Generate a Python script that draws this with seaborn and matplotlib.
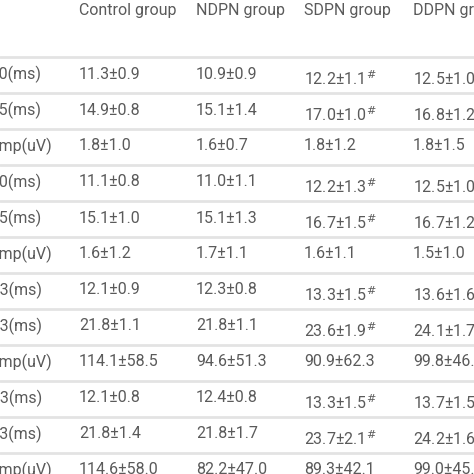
import matplotlib
matplotlib.use("Agg")
import matplotlib.pyplot as plt
import seaborn as sns

sns.set_theme(style="white")
plt.rcParams['font.family'] = ['Roboto', 'DejaVu Sans']

columns = ["Control group", "NDPN group", "SDPN group", "DDPN group"]
row_labels = ["L10(ms)", "L15(ms)", "Amp(uV)", "R10(ms)", "R15(ms)", "Amp(uV)",
              "L 13(ms)", "L 13(ms)", "Amp(uV)", "R 13(ms)", "R≥3(ms)", "Amp(uV)"]
control = ["11.3±0.9", "14.9±0.8", "1.8±1.0", "11.1±0.8", "15.1±1.0", "1.6±1.2",
           "12.1±0.9", "21.8±1.1", "114.1±58.5", "12.1±0.8", "21.8±1.4", "114.6±58.0"]
ndpn = ["10.9±0.9", "15.1±1.4", "1.6±0.7", "11.0±1.1", "15.1±1.3", "1.7±1.1",
        "12.3±0.8", "21.8±1.1", "94.6±51.3", "12.4±0.8", "21.8±1.7", "82.2±47.0"]
sdpn = ["12.2±1.1", "17.0±1.0", "1.8±1.2", "12.2±1.3", "16.7±1.5", "1.6±1.1",
        "13.3±1.5", "23.6±1.9", "90.9±62.3", "13.3±1.5", "23.7±2.1", "89.3±42.1"]
sdpn_mark = [True, True, False, True, True, False, True, True, False, True, True, False]
ddpn = ["12.5±1.0", "16.8±1.2", "1.8±1.5", "12.5±1.0", "16.7±1.2", "1.5±1.0",
        "13.6±1.6", "24.1±1.7", "99.8±46.1", "13.7±1.5", "24.2±1.6", "99.0±45.1"]

col_x = [79, 196, 304, 413]
label_end = 42
text_color = "#5a5a5a"
line_color = "#e3e3e3"

fig = plt.figure(figsize=(4.74, 4.74), dpi=100)
ax = fig.add_axes([0, 0, 1, 1])
ax.set_xlim(0, 474)
ax.set_ylim(474, 0)
ax.axis("off")

fs = 11.5
for x, c in zip(col_x, columns):
    ax.text(x, 10, c, ha="left", va="center", fontsize=fs, color=text_color)

top = 57
step = 36
for i in range(len(row_labels) + 1):
    ax.axhline(top + i * step, color=line_color, lw=2)

for i, lab in enumerate(row_labels):
    yc = top + i * step + step / 2 - 1
    xe = label_end + (11 if lab.startswith("Amp") else 0)
    ax.text(xe, yc, lab, ha="right", va="center", fontsize=fs, color=text_color)
    ax.text(col_x[0], yc, control[i], ha="left", va="center", fontsize=fs, color=text_color)
    ax.text(col_x[1], yc, ndpn[i], ha="left", va="center", fontsize=fs, color=text_color)
    off = 5 if sdpn_mark[i] else 0
    s = sdpn[i] + ("$^{\\#}$" if sdpn_mark[i] else "")
    ax.text(col_x[2], yc + off, s, ha="left", va="center", fontsize=fs, color=text_color)
    ax.text(col_x[3], yc + off, ddpn[i] + ("$^{\\#}$" if sdpn_mark[i] else ""),
            ha="left", va="center", fontsize=fs, color=text_color)

fig.savefig("out.png", dpi=100)
